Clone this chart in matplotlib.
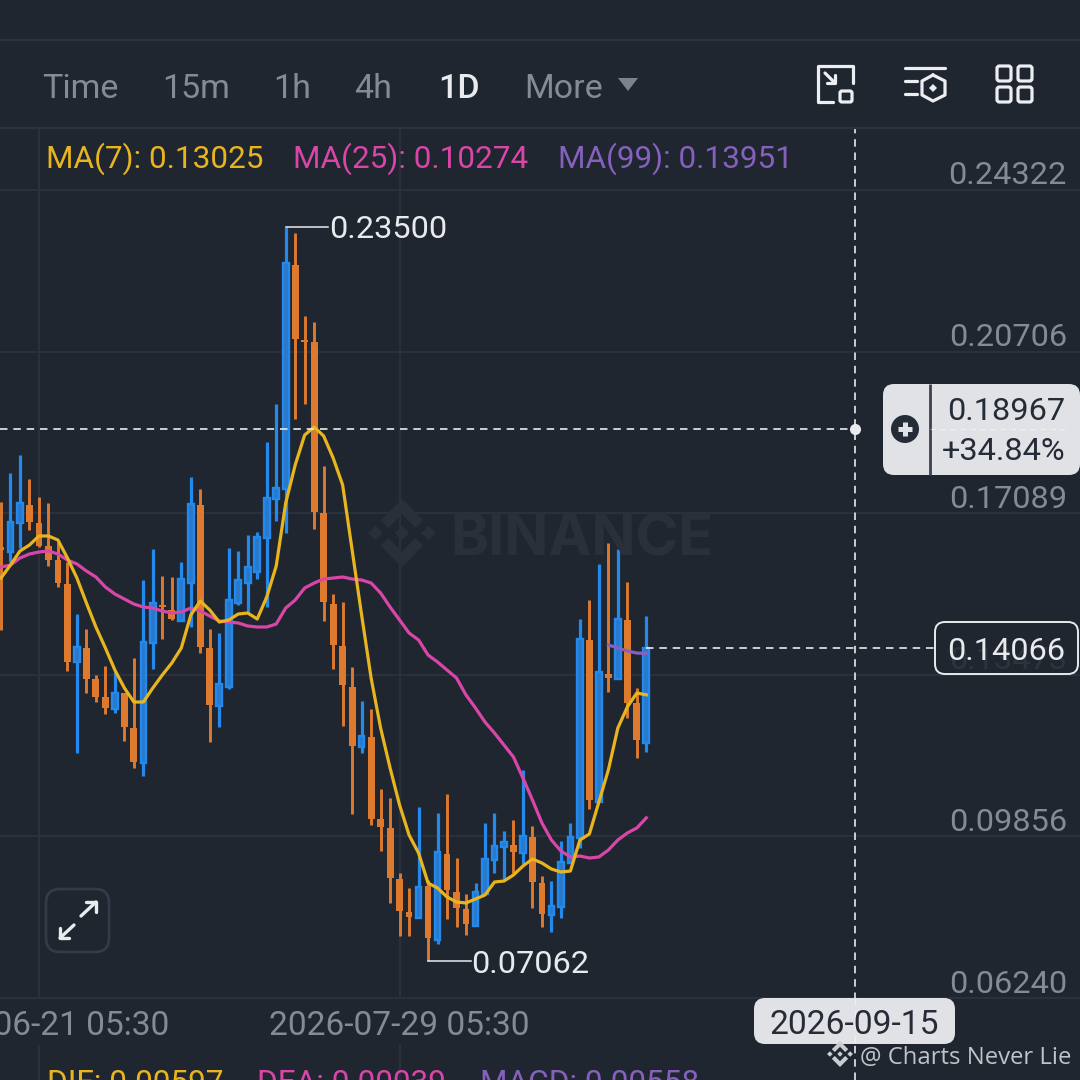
"""Binance style daily candlestick screenshot, MA overlays and crosshair."""
import numpy as np
import matplotlib

matplotlib.use("Agg")
import matplotlib.pyplot as plt
from matplotlib.patches import Circle, FancyBboxPatch, Polygon

plt.rcParams["font.family"] = ["Roboto", "DejaVu Sans"]

# ---------------------------------------------------------------------------
# data
# ---------------------------------------------------------------------------
highs = [0.17340, 0.17989, 0.18392, 0.17855, 0.17452, 0.17318, 0.16445, 0.15997, 0.14834, 0.14498,
         0.13470, 0.13671, 0.13537, 0.13067, 0.13850, 0.15595, 0.16288, 0.15684, 0.15662, 0.15997,
         0.17899, 0.17631, 0.14498, 0.14409, 0.16311, 0.16244, 0.16602, 0.16669, 0.18683, 0.19533,
         0.23500, 0.23359, 0.21502, 0.21367, 0.18146, 0.15281, 0.15102, 0.13648, 0.12887, 0.12709,
         0.10918, 0.10717, 0.09039, 0.08703, 0.10515, 0.08882, 0.10381, 0.10807, 0.09374, 0.08569,
         0.08815, 0.10158, 0.10381, 0.09978, 0.10225, 0.11344, 0.10091, 0.08971, 0.08860, 0.09754,
         0.10158, 0.14722, 0.15147, 0.15953, 0.16423, 0.16288, 0.15550, 0.13179, 0.14789]
lows = [0.14477, 0.15997, 0.16311, 0.16714, 0.16333, 0.15908, 0.15438, 0.13559, 0.11724, 0.13067,
        0.12865, 0.12597, 0.12619, 0.11992, 0.11388, 0.11209, 0.13604, 0.14275, 0.14700, 0.14677,
        0.14543, 0.13961, 0.11970, 0.12306, 0.13156, 0.15035, 0.14878, 0.15617, 0.14990, 0.16915,
        0.16647, 0.19197, 0.19533, 0.16736, 0.14677, 0.13604, 0.12328, 0.10359, 0.11724, 0.10113,
        0.09531, 0.08368, 0.07630, 0.07630, 0.08032, 0.07062, 0.07451, 0.08009, 0.07831, 0.07652,
        0.07853, 0.08569, 0.09039, 0.08905, 0.09039, 0.09240, 0.08256, 0.07831, 0.07719, 0.08032,
        0.09262, 0.09598, 0.10471, 0.10627, 0.13089, 0.13380, 0.12507, 0.11612, 0.11746]
opens = [0.16333, 0.16221, 0.16870, 0.17273, 0.16870, 0.16356, 0.16042, 0.15505, 0.13760, 0.14074,
         0.13380, 0.12977, 0.12709, 0.13067, 0.12283, 0.11500, 0.14186, 0.15035, 0.14923, 0.14677,
         0.15528, 0.17273, 0.14074, 0.12776, 0.13201, 0.15080, 0.15528, 0.15774, 0.16535, 0.17407,
         0.17631, 0.22643, 0.20965, 0.20920, 0.17094, 0.15058, 0.14118, 0.13201, 0.11858, 0.12082,
         0.10247, 0.10046, 0.08905, 0.08166, 0.08032, 0.08748, 0.07540, 0.09464, 0.08614, 0.08233,
         0.07853, 0.08569, 0.09329, 0.09620, 0.09665, 0.09486, 0.09844, 0.08815, 0.08099, 0.08278,
         0.09262, 0.09822, 0.14253, 0.10627, 0.13492, 0.13380, 0.14700, 0.12843, 0.11948]
closes = [0.16266, 0.16893, 0.17318, 0.16893, 0.16356, 0.16042, 0.15528, 0.13760, 0.14096, 0.13380,
          0.12977, 0.12731, 0.13067, 0.12306, 0.11522, 0.14208, 0.15080, 0.14990, 0.14722, 0.15617,
          0.17295, 0.14096, 0.12798, 0.13268, 0.15147, 0.15595, 0.15886, 0.16557, 0.17430, 0.17654,
          0.22688, 0.20987, 0.20920, 0.17117, 0.15102, 0.14141, 0.13245, 0.11880, 0.12104, 0.10247,
          0.10068, 0.08927, 0.08189, 0.08054, 0.08726, 0.07585, 0.09508, 0.08658, 0.08256, 0.07898,
          0.08614, 0.09352, 0.09643, 0.09732, 0.09508, 0.09867, 0.08837, 0.08122, 0.08301, 0.09284,
          0.09844, 0.14275, 0.10672, 0.13537, 0.13402, 0.14722, 0.12843, 0.12015, 0.14066]

ma7 = [0.15639, 0.15930, 0.16244, 0.16378, 0.16580, 0.16580, 0.16490, 0.16087, 0.15639, 0.15080,
       0.14543, 0.14074, 0.13581, 0.13179, 0.12865, 0.12865, 0.13179, 0.13470, 0.13738, 0.14074,
       0.14811, 0.15125, 0.14923, 0.14655, 0.14700, 0.14834, 0.14856, 0.14722, 0.15214, 0.15908,
       0.17318, 0.18168, 0.18839, 0.19018, 0.18817, 0.18325, 0.17721, 0.16266, 0.14811, 0.13402,
       0.12283, 0.11388, 0.10560, 0.09888, 0.09486, 0.08815, 0.08703, 0.08502, 0.08390, 0.08368,
       0.08457, 0.08547, 0.08837, 0.08860, 0.08994, 0.09195, 0.09352, 0.09262, 0.09128, 0.09061,
       0.09083, 0.09777, 0.09911, 0.10627, 0.11344, 0.12283, 0.12753, 0.13067, 0.13025]
ma25 = [0.15886, 0.15930, 0.16087, 0.16177, 0.16221, 0.16244, 0.16177, 0.16042, 0.15953, 0.15796,
        0.15662, 0.15438, 0.15281, 0.15169, 0.15058, 0.14990, 0.14968, 0.14901, 0.14856, 0.14878,
        0.14968, 0.14901, 0.14789, 0.14677, 0.14655, 0.14633, 0.14566, 0.14543, 0.14543, 0.14610,
        0.14968, 0.15147, 0.15416, 0.15528, 0.15617, 0.15639, 0.15662, 0.15617, 0.15595, 0.15528,
        0.15304, 0.14990, 0.14700, 0.14409, 0.14253, 0.13917, 0.13760, 0.13581, 0.13402, 0.13022,
        0.12731, 0.12417, 0.12171, 0.11903, 0.11634, 0.11164, 0.10672, 0.10158, 0.09777, 0.09531,
        0.09397, 0.09419, 0.09374, 0.09397, 0.09553, 0.09777, 0.09934, 0.10046, 0.10274]
ma99 = [0.14141, 0.14074, 0.14007, 0.13961, 0.13951]
ma99_start = 64

grid_prices = [0.24322, 0.20706, 0.17089, 0.13473, 0.09856, 0.06240]
date_ticks = [4, 42]
date_labels = ["2026-06-21 05:30", "2026-07-29 05:30"]
intervals = ["Time", "15m", "1h", "4h", "1D", "More"]
cross_index = 90
cross_price = 0.18967
cross_pct = "+34.84%"
cross_date = "2026-09-15"
last_price = 0.14066

BG = "#1f2630"
GRID = "#2c323d"
BLUE = "#2389ec"
BLUE_IN = "#2a78c8"
ORANGE = "#de7a2e"
YELLOW = "#e9b51f"
PINK = "#d946a8"
PURPLE = "#8561bd"
AXIS_TXT = "#858b96"
WHITE = "#e8eaed"
PILL = "#e0e2e6"
DARK = "#252c38"
MARK = "#2a303b"
FS = 23.4
FS_LEGEND = 22.7

# pixel scale of the screenshot: candle step and price per pixel
STEP = 9.49
PX_PRICE = 0.00022376
X0 = -1 / STEP
X1 = 1079 / STEP
Y_TOP = 0.28573
Y_BOT = Y_TOP - 1080 * PX_PRICE


def draw_logo(ax, cx, cy, r, color, zorder=1):
    """Four diamonds and chevrons of the exchange mark, in pixel coordinates."""
    def put(points):
        pts = [(cx + px * r, cy - py * r) for px, py in points]
        ax.add_patch(Polygon(pts, closed=True, fc=color, ec="none", zorder=zorder))

    put([(0, 0.21), (0.21, 0), (0, -0.21), (-0.21, 0)])
    put([(0.78, 0.21), (1.0, 0), (0.78, -0.21), (0.56, 0)])
    put([(-0.78, 0.21), (-1.0, 0), (-0.78, -0.21), (-0.56, 0)])
    put([(-0.63, 0.37), (0, 1.0), (0.63, 0.37), (0.4, 0.15), (0, 0.55), (-0.4, 0.15)])
    put([(-0.63, -0.37), (0, -1.0), (0.63, -0.37), (0.4, -0.15), (0, -0.55), (-0.4, -0.15)])


fig = plt.figure(figsize=(10.8, 10.8), dpi=100, facecolor=BG)

# ---------------------------------------------------------------------------
# chart axes: x is candle index, y is price
# ---------------------------------------------------------------------------
ax = fig.add_axes([0, 0, 1, 1], facecolor=BG)
ax.set_xlim(X0, X1)
ax.set_ylim(Y_BOT, Y_TOP)
ax.axis("off")

chart_top = Y_TOP - 128 * PX_PRICE
ax.hlines(grid_prices, X0, X1, color=GRID, lw=1.4, zorder=1)
ax.vlines(date_ticks, grid_prices[-1], chart_top, color=GRID, lw=1.4, zorder=1)
ax.vlines(date_ticks, Y_BOT, Y_TOP - 1045 * PX_PRICE, color=GRID, lw=1.4, zorder=1)

for price in grid_prices:
    ax.annotate(f"{price:.5f}", (X1, price), xytext=(-13, 17), textcoords="offset pixels",
                ha="right", va="center_baseline", color=AXIS_TXT, fontsize=FS, zorder=2)
for tick, label in zip(date_ticks, date_labels):
    ax.annotate(label, (tick, grid_prices[-1]), xytext=(0, -24), textcoords="offset pixels",
                ha="center", va="center_baseline", color=AXIS_TXT, fontsize=24.1, zorder=2)

idx = np.arange(len(closes))
opens_a, closes_a = np.array(opens), np.array(closes)
highs_a, lows_a = np.array(highs), np.array(lows)
up = closes_a > opens_a
tops = np.maximum(opens_a, closes_a)
bots = np.minimum(opens_a, closes_a)

ax.vlines(idx[~up], lows_a[~up], highs_a[~up], color=ORANGE, lw=2.1, zorder=3)
ax.bar(idx[~up], tops[~up] - bots[~up], bottom=bots[~up], width=0.72, color=ORANGE, zorder=3)
ax.vlines(idx[up], lows_a[up], bots[up], color=BLUE, lw=2.3, zorder=3)
ax.vlines(idx[up], tops[up], highs_a[up], color=BLUE, lw=2.3, zorder=3)
ax.bar(idx[up], tops[up] - bots[up], bottom=bots[up], width=0.6, facecolor=BLUE_IN,
       edgecolor=BLUE, linewidth=1.7, zorder=3)

ax.plot(idx, ma25, color=PINK, lw=2.3, zorder=4, solid_joinstyle="round")
ax.plot(idx, ma7, color=YELLOW, lw=2.3, zorder=5, solid_joinstyle="round")
ax.plot(np.arange(len(ma99)) + ma99_start, ma99, color=PURPLE, lw=2.3, zorder=4)

# high / low callouts
hi = int(np.argmax(highs))
lo = int(np.argmin(lows))
ax.plot([hi, hi + 4.5], [highs[hi]] * 2, color=WHITE, lw=1.1, zorder=6)
ax.plot([lo, lo + 4.5], [lows[lo]] * 2, color=WHITE, lw=1.1, zorder=6)
ax.text(hi + 4.55, highs[hi], f"{highs[hi]:.5f}", color=WHITE, fontsize=FS,
        va="center_baseline", zorder=6)
ax.text(lo + 4.55, lows[lo], f"{lows[lo]:.5f}", color=WHITE, fontsize=FS,
        va="center_baseline", zorder=6)

# crosshair and last price line
ax.hlines(cross_price, X0, cross_index, color=WHITE, lw=1.2, linestyles=(0, (4.5, 3.5)), zorder=7)
ax.vlines(cross_index, Y_BOT, chart_top, color=WHITE, lw=1.2, linestyles=(0, (4.5, 3.5)), zorder=7)
ax.hlines(last_price, idx[-1], X1 - 15, color=WHITE, lw=1.2, linestyles=(0, (4.5, 3.5)), zorder=7)
ax.plot(cross_index, cross_price, "o", ms=8, color=WHITE, mec="none", zorder=8)

# ---------------------------------------------------------------------------
# interface layer in screenshot pixels
# ---------------------------------------------------------------------------
ui = fig.add_axes([0, 0, 1, 1], facecolor="none")
ui.set_xlim(0, 1080)
ui.set_ylim(1080, 0)
ui.axis("off")

ui.hlines([40, 128], 0, 1080, color=GRID, lw=1.6, zorder=1)
draw_logo(ui, 402, 533, 34, MARK, zorder=1.5)
ui.text(450, 534, "BINANCE", color=MARK, fontsize=41.6, fontweight="bold", family="Inter",
        va="center_baseline", zorder=1.5)

# interval tabs
tab_x = [42, 162, 273, 354, 438, 524]
for x, label in zip(tab_x, intervals):
    active = label == "1D"
    ui.text(x, 86, label, color=WHITE if active else AXIS_TXT, fontsize=24.5,
            fontweight="medium" if active else "normal", va="center_baseline")
ui.add_patch(Polygon([(618, 78), (638, 78), (628, 91)], closed=True, fc="#7d838d", ec="none"))

# legend row
ui.text(46, 155, "MA(7): 0.13025", color=YELLOW, fontsize=FS_LEGEND, va="center_baseline")
ui.text(293, 155, "MA(25): 0.10274", color=PINK, fontsize=FS_LEGEND, va="center_baseline")
ui.text(558, 155, "MA(99): 0.13951", color=PURPLE, fontsize=FS_LEGEND, va="center_baseline")

# toolbar icons
icon = dict(color="#eceef1", lw=2.3, solid_capstyle="round", solid_joinstyle="round")
ui.plot([833, 818, 818, 853, 853], [102, 102, 66, 66, 83], **icon)
ui.plot([825, 835], [73, 83], **icon)
ui.plot([827, 835, 835], [83, 83, 75], **icon)
ui.add_patch(FancyBboxPatch((840, 91), 12, 11, boxstyle="round,pad=0,rounding_size=2",
                            fc="none", ec="#eceef1", lw=2.3))
ui.plot([905, 945], [68, 68], **icon)
ui.plot([905, 917], [81, 81], **icon)
ui.plot([905, 917], [94, 94], **icon)
ui.plot([933, 945, 945, 933, 922, 922, 933], [75, 81, 95, 101, 95, 81, 75], **icon)
ui.add_patch(Polygon([(933, 84), (937, 88), (933, 92), (929, 88)], closed=True, fc="#eceef1"))
for x in (997, 1018):
    for y in (66, 87):
        ui.add_patch(FancyBboxPatch((x, y), 14, 15, boxstyle="round,pad=0,rounding_size=2.5",
                                    fc="none", ec="#eceef1", lw=2.3))

# expand button
ui.add_patch(FancyBboxPatch((46, 889), 63, 63, boxstyle="round,pad=0,rounding_size=14",
                            fc=BG, ec="#343a46", lw=2))
arrow = dict(color=WHITE, lw=2.4, solid_capstyle="round", solid_joinstyle="round")
ui.plot([81, 96], [916, 902], **arrow)
ui.plot([86, 96, 96], [902, 902, 912], **arrow)
ui.plot([74, 60], [925, 938], **arrow)
ui.plot([60, 60, 69], [928, 938, 938], **arrow)

# crosshair price pill
ui.add_patch(FancyBboxPatch((883, 384), 197, 91, boxstyle="round,pad=0,rounding_size=11",
                            fc=PILL, ec="none", zorder=10))
ui.vlines(929.5, 384, 475, color="#3b4350", lw=2, zorder=11)
ui.add_patch(Circle((905, 429), 14, fc=DARK, ec="none", zorder=11))
ui.plot([905, 905], [422, 436], color=PILL, lw=3.6, solid_capstyle="butt", zorder=12)
ui.plot([898, 912], [429, 429], color=PILL, lw=3.6, solid_capstyle="butt", zorder=12)
ui.hlines(429, 930, 1065, color="white", lw=0.8, alpha=0.5, linestyles=(0, (5, 4)), zorder=11)
ui.text(1065, 408.5, f"{cross_price:.5f}", color=DARK, fontsize=FS, ha="right",
        va="center_baseline", zorder=12)
ui.text(1065, 448.5, cross_pct, color=DARK, fontsize=FS, ha="right",
        va="center_baseline", zorder=12)

# last price box, the axis label stays faintly visible behind it
ui.add_patch(FancyBboxPatch((935, 622), 143, 52, boxstyle="round,pad=0,rounding_size=10",
                            fc=BG, ec="none", alpha=0.86, zorder=10))
ui.add_patch(FancyBboxPatch((935, 622), 143, 52, boxstyle="round,pad=0,rounding_size=10",
                            fc="none", ec=WHITE, lw=1.4, zorder=11))
ui.text(1065, 648, f"{last_price:.5f}", color=WHITE, fontsize=FS, ha="right",
        va="center_baseline", zorder=12)

# crosshair date pill
ui.add_patch(FancyBboxPatch((754, 998), 201, 46, boxstyle="round,pad=0,rounding_size=11",
                            fc=PILL, ec="none", zorder=10))
ui.vlines(854.5, 998, 1044, color="white", lw=1, alpha=0.5, linestyles=(0, (5, 4)), zorder=11)
ui.text(854.5, 1022, cross_date, color=DARK, fontsize=24.2, ha="center",
        va="center_baseline", zorder=12)

# watermark
draw_logo(ui, 840, 1054, 13, "#c9ccd1", zorder=12)
ui.text(860, 1055, "@ Charts Never Lie", color="#c0c3c9", fontsize=17.2,
        va="center_baseline", family="Open Sans", zorder=12)

# next panel header, cut by the lower edge
ui.text(47, 1080, "DIF: 0.00597", color=YELLOW, fontsize=FS_LEGEND, va="center_baseline")
ui.text(257, 1080, "DEA: 0.00039", color=PINK, fontsize=FS_LEGEND, va="center_baseline")
ui.text(480, 1080, "MACD: 0.00558", color=PURPLE, fontsize=FS_LEGEND, va="center_baseline")

fig.savefig("out.png", dpi=100, facecolor=BG)
